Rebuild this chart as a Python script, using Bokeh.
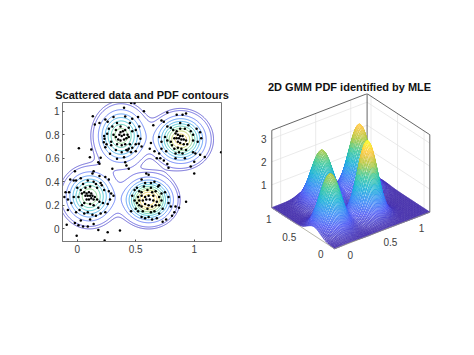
import numpy as np
from bokeh.embed import file_html
from bokeh.resources import INLINE
from bokeh.layouts import row, column
from bokeh.models import FixedTicker, Range1d
from bokeh.plotting import figure
from bokeh.core.properties import value

# --- data ---
title_left = "Scattered data and PDF contours"
title_right = "2D GMM PDF identified by MLE"
x_ticks = [0, 0.5, 1]
y_ticks = [0, 0.2, 0.4, 0.6, 0.8, 1]
ticks_3d = [0, 0.5, 1]
z_ticks = [1, 2, 3]
x_lim = (-0.126, 1.233)
y_lim = (-0.108, 1.074)
z_lim = (0, 3.37)

# the four mixture components
comp_x = [0.105, 0.61, 0.375, 0.885]
comp_y = [0.275, 0.245, 0.79, 0.76]
comp_sx = [0.12, 0.115, 0.118, 0.122]
comp_sy = [0.125, 0.105, 0.135, 0.115]
comp_peak = [2.4, 3.3, 2.34, 2.92]
contour_levels = [0.21, 0.3, 0.6, 0.9, 1.2, 1.5, 1.8, 2.1, 2.4, 2.7, 3.0]

pts_a = [(.40,1.03),(.46,1.07),(.49,1.07),(.133,.957),(.15,.887),(.19,.90),(.24,.93),(.31,.95),(.41,.955),(.47,.935),(.52,.95),
 (.014,.685),(.12,.674),(.2,.605),(.18,.566),(.19,.553),(.108,.609),(.30,.51),(.41,.566),(.42,.538),(.44,.51),
 (.227,.736),(.233,.765),(.256,.808),(.24,.694),(.28,.638),(.34,.595),(.40,.609),(.43,.666),(.46,.651),(.50,.66),(.54,.765),(.526,.723),
 (.37,.82),(.39,.83),(.41,.84),(.36,.80),(.38,.79),(.40,.80),(.43,.80),(.35,.76),(.37,.75),(.40,.76),(.42,.77),(.44,.78),(.33,.78),
 (.34,.72),(.38,.71),(.41,.72),(.45,.72),(.33,.84),(.31,.80),(.47,.83),(.29,.74),(.44,.86),(.37,.87),(.30,.87),(.34,.90),(.45,.90),
 (.50,.84),(.52,.79),(.50,.72),(.47,.69),(.44,.68),(.42,.67),(.38,.65),(.33,.67),(.29,.71),(.27,.85),(.25,.72),(.23,.79),(.26,.91),(.53,.87),(.55,.70)]
pts_b = [(.57,1.0),(.77,.99),(.85,.97),(.90,.97),(.93,.98),(.72,.92),(.74,.91),(.77,.87),(.88,.90),(.95,.88),(1.02,.85),(1.05,.82),
 (.80,.86),(.82,.84),(.85,.83),(.88,.85),(.92,.85),(.97,.83),(.99,.80),(.84,.81),(.86,.80),(.88,.79),(.90,.79),(.83,.77),(.85,.77),
 (.87,.77),(.89,.76),(.91,.76),(.93,.75),(.86,.74),(.88,.73),(.91,.72),(.94,.72),(.80,.74),(.77,.75),(.75,.78),(.72,.74),(.70,.78),
 (.99,.75),(1.03,.74),(1.06,.77),(.83,.68),(.86,.69),(.89,.68),(.93,.67),(.87,.65),(.90,.64),(.84,.64),(.76,.66),(.72,.68),(.70,.64),
 (.68,.60),(.71,.60),(.74,.58),(.99,.65),(1.01,.64),(1.05,.63),(1.09,.61),(.92,.60),(.84,.60),(.77,.55),(.78,.52),(.97,.53),(1.0,.47),
 (1.23,.65),(.66,.66),(.63,.73),(.62,.68),(1.0,.57),(.81,.71),(.65,.88)]
pts_c = [(-.02,.49),(.14,.49),(-.06,.42),(-.03,.41),(-.01,.41),(.03,.43),(.13,.47),(.19,.45),(.24,.44),(.27,.42),(.05,.38),(.09,.41),(.14,.40),
 (.16,.38),(.20,.39),(.00,.35),(.03,.33),(.07,.35),(.11,.36),(.17,.35),(.21,.37),(.23,.33),(.27,.32),(.29,.30),(-.10,.31),(-.07,.31),(-.11,.27),
 (-.08,.25),(-.05,.22),(-.03,.27),(.01,.27),(.04,.30),(.06,.31),(.08,.30),(.10,.31),(.12,.30),(.07,.28),(.09,.28),(.11,.28),(.13,.28),(.15,.27),
 (.08,.25),(.10,.25),(.12,.26),(.14,.25),(.17,.25),(.19,.23),(.06,.22),(.04,.20),(.11,.21),(.14,.20),(.18,.18),(.22,.22),(.26,.21),(.28,.25),(.31,.28),
 (-.01,.14),(.02,.16),(.06,.13),(.09,.14),(.13,.12),(.16,.11),(.20,.13),(.24,.14),(-.08,.16),(-.09,.034),(-.02,.05),(.01,.03),(.03,.07),(.05,.02),
 (.09,.02),(.11,.08),(.14,.04),(.18,-.01),(-.005,-.06),(.26,-.03),(.234,-.10),(.365,-.014)]
pts_d = [(.59,.47),(.61,.46),(.55,.42),(.58,.39),(.63,.39),(.66,.40),(.70,.37),(.69,.36),(.63,.35),(.57,.36),(.51,.35),(.49,.33),(.53,.32),(.55,.31),
 (.60,.33),(.64,.31),(.67,.32),(.72,.30),(.75,.31),(.78,.27),(.70,.27),(.65,.28),(.61,.28),(.58,.27),(.55,.28),(.52,.27),(.47,.28),(.49,.24),(.51,.22),
 (.53,.24),(.56,.24),(.59,.25),(.62,.25),(.65,.24),(.68,.23),(.72,.24),(.53,.20),(.55,.19),(.58,.21),(.61,.20),(.64,.19),(.67,.20),(.70,.20),(.50,.17),
 (.52,.15),(.56,.15),(.60,.17),(.63,.14),(.66,.15),(.70,.13),(.73,.17),(.78,.22),(.80,.19),(.84,.19),(.87,.27),(.87,.18),(.93,.23),(.55,.10),(.58,.09),
 (.61,.10),(.64,.08),(.68,.09),(.73,.06),(.76,.08),(.81,.11),(.83,.14),(.46,.15)]

parula = [(0.2422,0.1504,0.6603),(0.2810,0.3228,0.9579),(0.1786,0.5289,0.9682),(0.0689,0.6948,0.8394),
          (0.2161,0.7843,0.5923),(0.6720,0.7793,0.2227),(0.9970,0.7659,0.2199),(0.9769,0.9839,0.0805)]

# --- helpers ---
def pdf(X, Y):
    Z = np.zeros_like(X, dtype=float)
    for mx, my, sx, sy, a in zip(comp_x, comp_y, comp_sx, comp_sy, comp_peak):
        Z += a * np.exp(-0.5 * (((X - mx) / sx) ** 2 + ((Y - my) / sy) ** 2))
    return Z

def hexes(t):
    t = np.clip(np.atleast_1d(np.asarray(t, dtype=float)), 0, 1)
    pos = np.linspace(0, 1, len(parula))
    r, g, b = [np.interp(t, pos, [c[k] for c in parula]) for k in range(3)]
    return ["#%02x%02x%02x" % (int(a * 255), int(c * 255), int(d * 255)) for a, c, d in zip(r, g, b)]

TXT = "#404040"
FONT = "Liberation Sans"

# --- left panel ---
p = figure(width=240, height=270, output_backend="svg", toolbar_location=None,
           x_range=Range1d(*x_lim), y_range=Range1d(*y_lim),
           frame_width=159, frame_height=139, min_border_left=62, min_border_right=19,
           min_border_top=102, min_border_bottom=29, title=title_left)
p.title.align = "center"
p.title.text_font = FONT
p.title.text_font_size = "11px"
p.title.text_font_style = "bold"
p.title.text_color = "#111111"
p.title.standoff = 3
p.grid.visible = False
p.outline_line_color = "#777777"
p.background_fill_color = "white"
p.border_fill_color = "white"
for ax, tk in ((p.xaxis[0], x_ticks), (p.yaxis[0], y_ticks)):
    ax.ticker = FixedTicker(ticks=tk)
    ax.major_tick_in = 2
    ax.major_tick_out = 0
    ax.minor_tick_line_color = None
    ax.axis_line_color = "#777777"
    ax.major_tick_line_color = "#555555"
    ax.major_label_text_font = FONT
    ax.major_label_text_font_size = "10px"
    ax.major_label_text_color = TXT
    ax.major_label_standoff = 3
p.xaxis[0].major_label_overrides = {0: "0", 0.5: "0.5", 1: "1"}
p.yaxis[0].major_label_overrides = {0: "0", 0.2: "0.2", 0.4: "0.4", 0.6: "0.6", 0.8: "0.8", 1: "1"}

cx = np.linspace(x_lim[0], x_lim[1], 240)
cy = np.linspace(y_lim[0], y_lim[1], 220)
CX, CY = np.meshgrid(cx, cy)
CZ = pdf(CX, CY)
line_cols = hexes(np.array(contour_levels) / max(comp_peak))
p.contour(cx, cy, CZ, contour_levels, line_color=line_cols, line_width=0.75)
pts = pts_a + pts_b + pts_c + pts_d
p.scatter([a[0] for a in pts], [a[1] for a in pts], size=2.5, marker="circle",
          fill_color="black", line_color=None)

# --- right panel: orthographic projection of (x, y, z) on the page ---
TOP = 93
q = figure(width=226, height=270, output_backend="svg", toolbar_location=None,
           x_range=Range1d(240, 466), y_range=Range1d(270, TOP),
           frame_width=226, frame_height=270 - TOP, min_border_left=0, min_border_right=0,
           min_border_top=TOP, min_border_bottom=0, title=title_right)
q.title.align = "left"
q.title.offset = 27.5
q.title.text_font = FONT
q.title.text_font_size = "11px"
q.title.text_font_style = "bold"
q.title.text_color = "#111111"
q.title.standoff = 2
q.axis.visible = False
q.grid.visible = False
q.outline_line_color = None
q.border_fill_color = "white"

F = np.array([334.0, 248.3])
R = np.array([429.3, 211.7])
L = np.array([271.3, 207.3])
H = 77.5
def proj(x, y, z):
    u = (np.asarray(x, float) - x_lim[0]) / (x_lim[1] - x_lim[0])
    v = (np.asarray(y, float) - y_lim[0]) / (y_lim[1] - y_lim[0])
    w = np.asarray(z, float) / z_lim[1]
    return (F[0] + u * (R[0] - F[0]) + v * (L[0] - F[0]),
            F[1] + u * (R[1] - F[1]) + v * (L[1] - F[1]) - w * H)

def seg(a, b, color, width):
    sx0, sy0 = proj(*a)
    sx1, sy1 = proj(*b)
    q.line([float(sx0), float(sx1)], [float(sy0), float(sy1)], line_color=color, line_width=width)

GRID = "#e4e4e4"
for t in ticks_3d:
    seg((t, y_lim[1], 0), (t, y_lim[1], z_lim[1]), GRID, 0.8)
    seg((x_lim[1], t, 0), (x_lim[1], t, z_lim[1]), GRID, 0.8)
for t in z_ticks:
    seg((x_lim[0], y_lim[1], t), (x_lim[1], y_lim[1], t), GRID, 0.8)
    seg((x_lim[1], y_lim[0], t), (x_lim[1], y_lim[1], t), GRID, 0.8)

BOX = "#666666"
seg((x_lim[0], y_lim[1], z_lim[1]), (x_lim[1], y_lim[1], z_lim[1]), BOX, 1)
seg((x_lim[1], y_lim[1], z_lim[1]), (x_lim[1], y_lim[0], z_lim[1]), BOX, 1)
seg((x_lim[1], y_lim[1], 0), (x_lim[1], y_lim[1], z_lim[1]), BOX, 1)
seg((x_lim[0], y_lim[1], 0), (x_lim[0], y_lim[1], z_lim[1]), BOX, 1)
seg((x_lim[1], y_lim[0], 0), (x_lim[1], y_lim[0], z_lim[1]), BOX, 1)

N = 100
gx = np.linspace(x_lim[0], x_lim[1], N)
gy = np.linspace(y_lim[0], y_lim[1], N)
GX, GY = np.meshgrid(gx, gy, indexing="ij")
GZ = pdf(GX, GY)
SX, SY = proj(GX, GY, GZ)
xs, ys, zc = [], [], []
for i in range(N - 2, -1, -1):
    for j in range(N - 2, -1, -1):
        xs.append([float(SX[i, j]), float(SX[i + 1, j]), float(SX[i + 1, j + 1]), float(SX[i, j + 1])])
        ys.append([float(SY[i, j]), float(SY[i + 1, j]), float(SY[i + 1, j + 1]), float(SY[i, j + 1])])
        zc.append(float(GZ[i:i + 2, j:j + 2].mean()))
cols = hexes(np.array(zc) / max(comp_peak))
q.patches(xs, ys, fill_color="white", line_color=cols, line_width=0.7)

seg((x_lim[0], y_lim[0], 0), (x_lim[1], y_lim[0], 0), "#8d8d80", 0.8)
seg((x_lim[0], y_lim[0], 0), (x_lim[0], y_lim[1], 0), "#a5a595", 0.8)

# tick labels of the 3-D box, placed beside their ticks
def labels(tx, ty, texts):
    q.text(tx, ty, text=texts, text_font=value(FONT), text_font_size="10px", text_color=TXT,
           text_align="center", text_baseline="middle")

lx, ly = proj(ticks_3d, [y_lim[0]] * 3, [0] * 3)
labels([float(a) + d for a, d in zip(lx, (7, 12, 8))], [float(b) + d for b, d in zip(ly, (10, 9.6, 9.5))],
       [str(t) for t in ticks_3d])
lx, ly = proj([x_lim[0]] * 3, ticks_3d, [0] * 3)
labels([float(a) - d for a, d in zip(lx, (8, 13, 7))], [float(b) + d for b, d in zip(ly, (9, 9, 9))],
       [str(t) for t in ticks_3d])
lx, ly = proj([x_lim[0]] * 3, [y_lim[1]] * 3, z_ticks)
labels([float(a) - 8 for a in lx], [float(b) for b in ly], [str(t) for t in z_ticks])

page = row(column(p), column(q), spacing=0)
open("out.html", "w").write(file_html(page, INLINE))
